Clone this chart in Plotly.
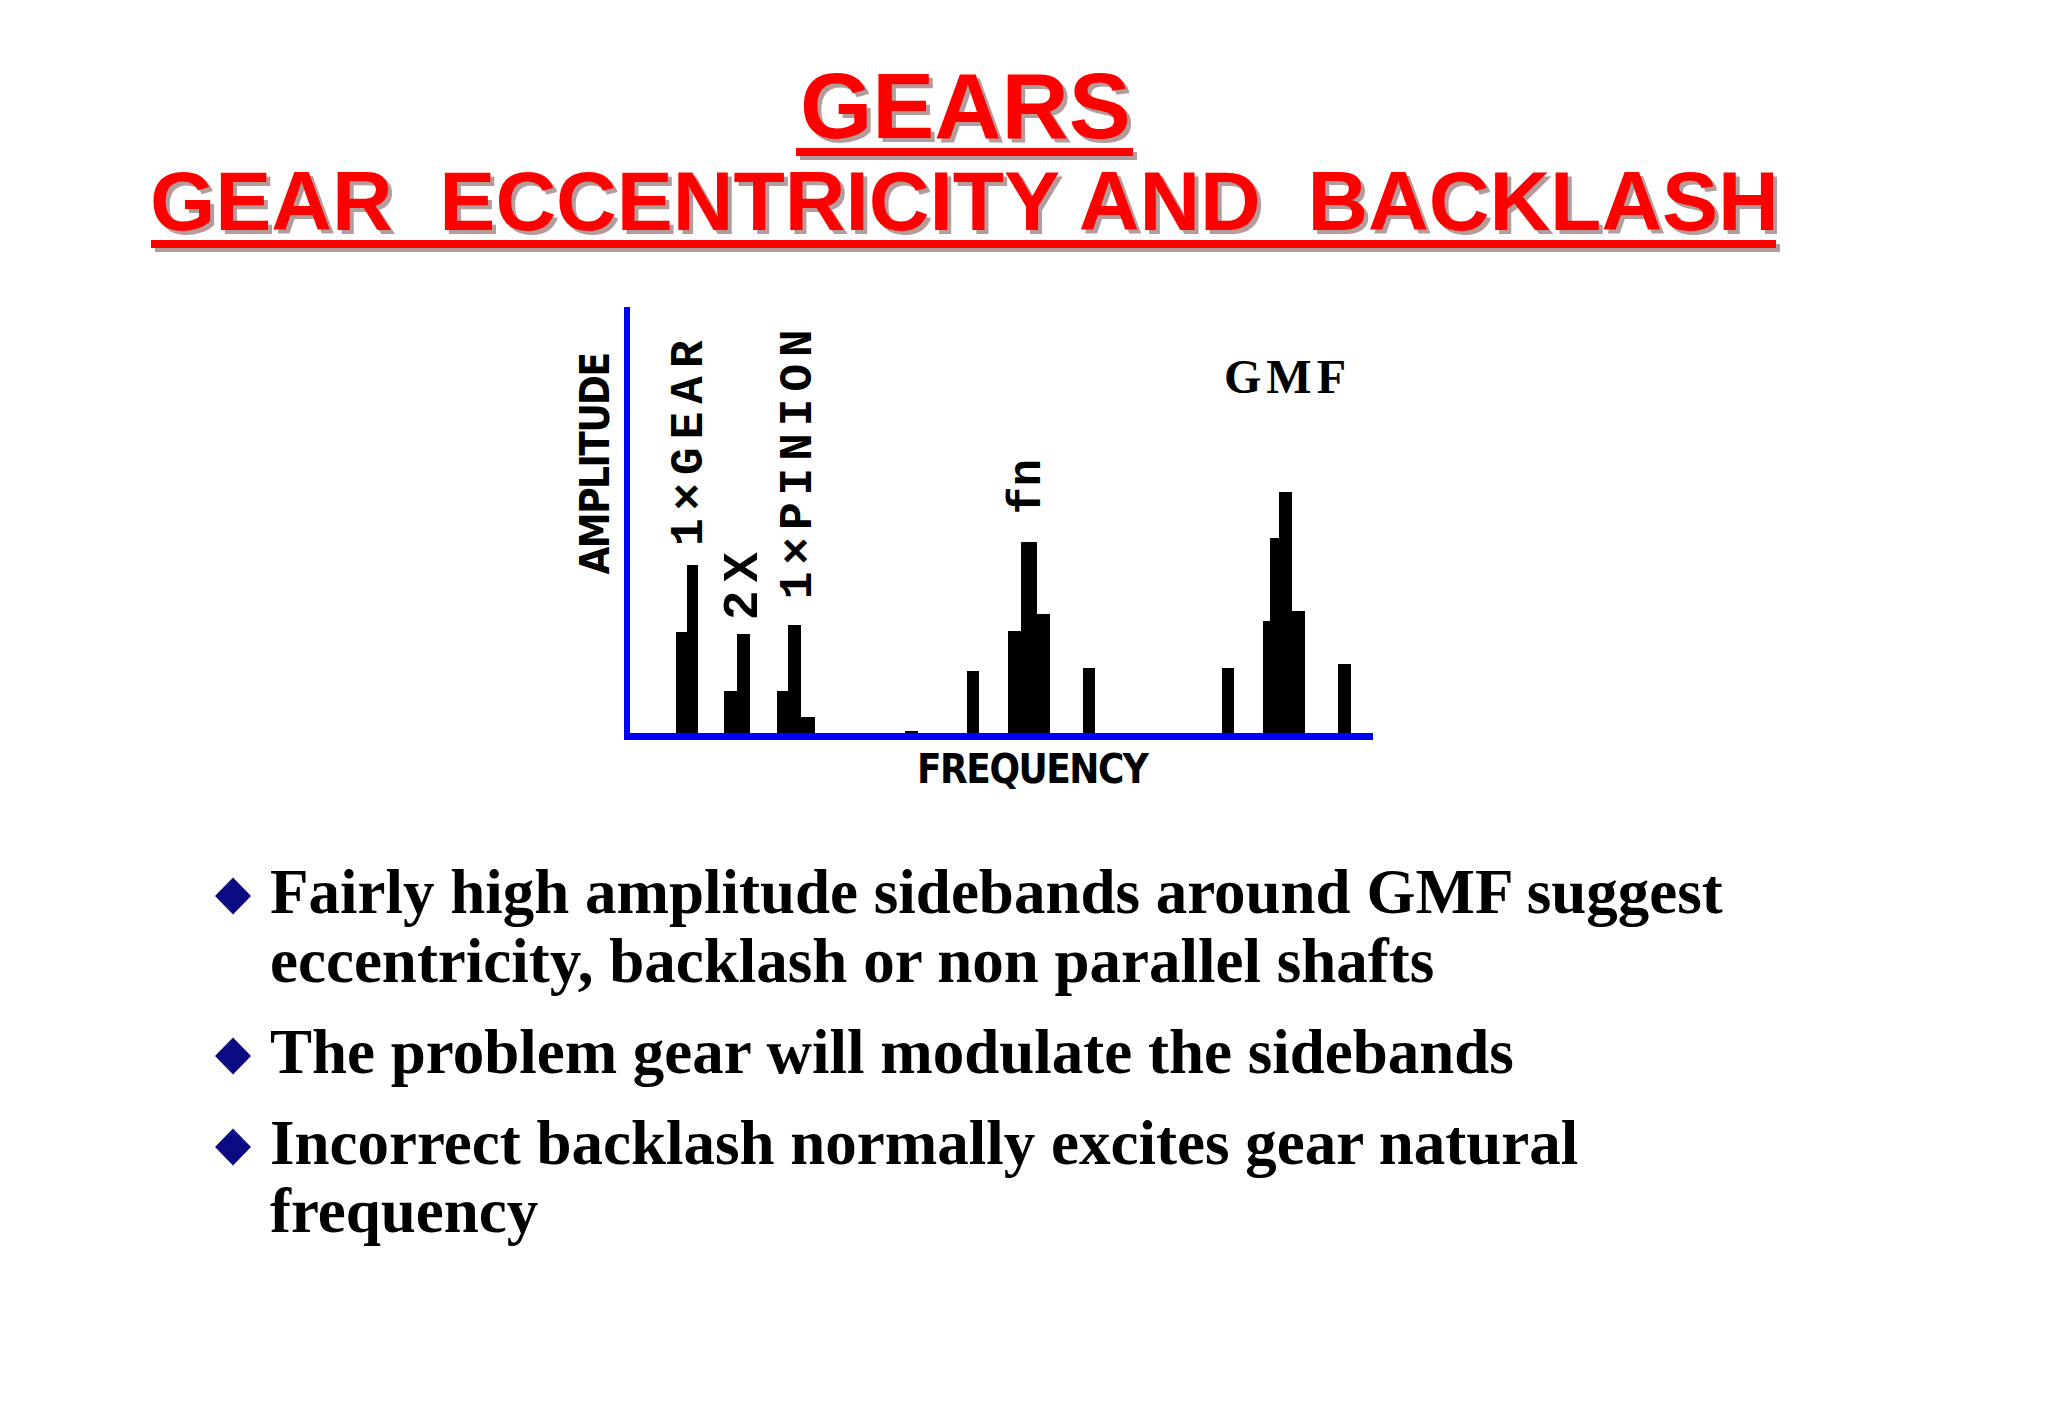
import plotly.graph_objects as go

W, H = 2048, 1418

# ---------------- data ----------------
# spectrum bins: centre frequency (arbitrary units), bin width, amplitude (% of full scale)
freq = [4.16, 5.05, 8.12, 9.17, 12.32, 13.28, 14.37, 22.73, 27.70, 31.05,
        32.22, 33.39, 37.07, 48.29, 51.40, 52.05, 52.94, 53.99, 57.70]
bin_width = [0.89, 0.89, 1.05, 1.05, 0.89, 1.05, 1.13, 1.05, 0.97, 1.05,
             1.29, 1.05, 0.97, 0.97, 0.57, 0.73, 1.05, 1.05, 1.05]
amplitude = [23.7, 39.4, 9.9, 23.2, 9.9, 25.4, 3.8, 0.5, 14.6, 23.9,
             44.8, 27.9, 15.3, 15.3, 26.3, 45.8, 56.6, 28.6, 16.2]

peak_labels = ["1×GEAR", "2X", "1×PINION", "fn", "GMF"]
peak_label_freq = [4.85, 9.13, 13.65, 32.14, 53.06]
peak_label_amp = [69.0, 35.4, 63.8, 57.7, 83.8]

x_title = "FREQUENCY"
y_title = "AMPLITUDE"

title_lines = ["GEARS", "GEAR\u00a0\u00a0ECCENTRICITY AND\u00a0\u00a0BACKLASH"]
bullets = [
    ["Fairly high amplitude sidebands around GMF suggest",
     "eccentricity, backlash or non parallel shafts"],
    ["The problem gear will modulate the sidebands"],
    ["Incorrect backlash normally excites gear natural",
     "frequency"],
]

# ---------------- helpers (pixel -> paper) ----------------
def px(x):
    return x / W

def py(y):
    return 1 - y / H

RED = "#FF0000"
SHADOW = "#B49C9C"
NAVY = "#0A0A82"
BLUE = "#0000FF"

fig = go.Figure()
fig.add_trace(go.Bar(
    x=freq, y=amplitude, width=bin_width,
    marker=dict(color="black", line=dict(width=0)),
    hoverinfo="skip", showlegend=False,
))

annotations = []
shapes = []

# ----- title with drop shadow and underline -----
title_specs = [
    dict(text=title_lines[0], x=798, ymid=138 - 0.3465 * 93, size=93,
         ul=(796, 1133, 148, 156)),
    dict(text=title_lines[1], x=148, ymid=230 - 0.3465 * 84, size=84,
         ul=(151, 1776, 240, 248)),
]
for t in title_specs:
    for dx, col in ((4, SHADOW), (0, RED)):
        annotations.append(dict(
            text=t["text"], xref="paper", yref="paper",
            x=px(t["x"] + dx), y=py(t["ymid"] + dx),
            xanchor="left", yanchor="middle", showarrow=False,
            font=dict(family="Liberation Sans, Arial, sans-serif", size=t["size"], color=col,
                      weight="bold"),
        ))
    x0, x1, y0, y1 = t["ul"]
    for dx, col in ((4, SHADOW), (0, RED)):
        shapes.append(dict(type="rect", xref="paper", yref="paper",
                           x0=px(x0 + dx), x1=px(x1 + dx), y0=py(y0 + dx), y1=py(y1 + dx),
                           fillcolor=col, line=dict(width=0), layer="above"))

# ----- bullet list -----
BS = 63
baselines = [[913, 982], [1073], [1164, 1232]]
for lines, bls in zip(bullets, baselines):
    for line, bl in zip(lines, bls):
        annotations.append(dict(
            text=line, xref="paper", yref="paper",
            x=px(268), y=py(bl - 0.3375 * BS),
            xanchor="left", yanchor="middle", showarrow=False,
            font=dict(family="Liberation Serif, Times New Roman, serif", size=BS,
                      color="black", weight="bold"),
        ))
    cy = bls[0] - 17
    cx = 233
    hw, hh = 18, 18.5
    path = "M {} {} L {} {} L {} {} L {} {} Z".format(
        px(cx - hw), py(cy), px(cx), py(cy - hh), px(cx + hw), py(cy), px(cx), py(cy + hh))
    shapes.append(dict(type="path", xref="paper", yref="paper", path=path,
                       fillcolor=NAVY, line=dict(width=0)))

# ----- axis titles -----
axis_font = dict(family="Liberation Sans Narrow, DejaVu Sans Condensed, sans-serif",
                 size=40, color="black", weight="bold")
annotations.append(dict(
    text='<span style="letter-spacing:-1.5px">{}</span>'.format(y_title),
    xref="paper", yref="paper", x=px(594.5), y=py(464),
    xanchor="center", yanchor="middle", textangle=-90, showarrow=False,
    font=axis_font,
))
annotations.append(dict(
    text='<span style="letter-spacing:-1.5px">{}</span>'.format(x_title),
    xref="paper", yref="paper", x=px(1033), y=py(769),
    xanchor="center", yanchor="middle", showarrow=False,
    font=axis_font,
))

# ----- peak labels (data coordinates) -----
MONO = "Liberation Mono, Courier New, monospace"
label_style = {
    "1×GEAR": dict(fam=MONO, size=46, w="bold", ls=8, ang=-90),
    "2X": dict(fam=MONO, size=50, w="bold", ls=8, ang=-90),
    "1×PINION": dict(fam=MONO, size=46, w="bold", ls=7, ang=-90),
    "fn": dict(fam=MONO, size=46, w="bold", ls=0, ang=-90),
    "GMF": dict(fam="Liberation Serif, Times New Roman, serif", size=48, w="bold", ls=5, ang=0),
}
for lab, fx, fy in zip(peak_labels, peak_label_freq, peak_label_amp):
    s = label_style[lab]
    annotations.append(dict(
        text='<span style="letter-spacing:{}px">{}</span>'.format(s["ls"], lab),
        xref="x", yref="y", x=fx, y=fy,
        xanchor="center", yanchor="middle", textangle=s["ang"], showarrow=False,
        font=dict(family=s["fam"], size=s["size"], color="black", weight=s["w"]),
    ))

fig.update_layout(
    width=W, height=H,
    margin=dict(l=0, r=0, t=0, b=0),
    paper_bgcolor="white", plot_bgcolor="white",
    bargap=0,
    xaxis=dict(domain=[630 / W, 1373 / W], range=[0, 60],
               showline=True, linecolor=BLUE, linewidth=7,
               showgrid=False, zeroline=False, showticklabels=False, ticks=""),
    yaxis=dict(domain=[1 - 733 / H, 1 - 307 / H], range=[0, 100],
               showline=True, linecolor=BLUE, linewidth=6,
               showgrid=False, zeroline=False, showticklabels=False, ticks=""),
    annotations=annotations,
    shapes=shapes,
    showlegend=False,
)

fig.write_html("out.html", config={"displayModeBar": False},
               post_script="document.body.style.margin='0';document.body.style.overflow='hidden';")
